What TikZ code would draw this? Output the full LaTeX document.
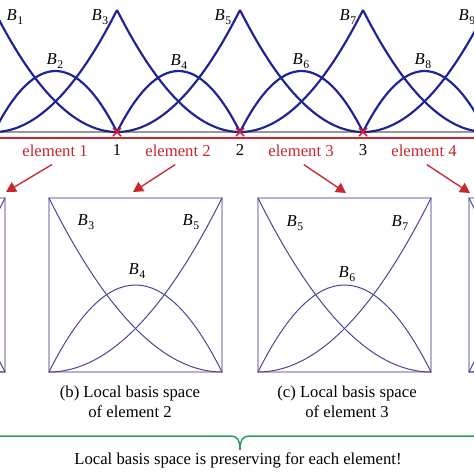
\documentclass[tikz,border=0pt]{standalone}
\usepackage{fontspec}
\setmainfont{Liberation Serif}
\usetikzlibrary{arrows.meta,positioning}

\definecolor{basisblue}{RGB}{30,35,150}
\definecolor{localblue}{RGB}{70,70,155}
\definecolor{framegray}{RGB}{178,180,205}
\definecolor{elemred}{RGB}{200,40,45}
\definecolor{knotred}{RGB}{225,30,40}
\definecolor{bracegreen}{RGB}{40,160,90}
\newcommand{\bas}[1]{\textit{B}\kern0.3pt\raisebox{-0.55ex}{\scriptsize #1}}

\begin{document}
\begin{tikzpicture}[x=0.6pt,y=-0.6pt,>=Stealth,
  basis/.style={basisblue,line width=1.3pt},
  local/.style={localblue,line width=0.6pt},
  frame/.style={framegray,line width=0.9pt},
  elem/.style={elemred},
  elarrow/.style={elemred,line width=0.8pt,-{Triangle[length=6pt,width=6.5pt]},shorten <=2pt},
  knot/.style={knotred,line width=1pt}]
  \clip (0,0) rectangle (474,474);
  \useasboundingbox (0,0) rectangle (474,474);

  % global basis over the knots
  \draw[gray!80,line width=1.2pt] (0,132) -- (474,132);
  \draw[elemred,line width=0.8pt] (0,138) -- (474,138);
  \foreach \i in {0,...,3} {
    \begin{scope}[shift={(\i*123,0)}]
      \draw[basis] (-6,10) .. controls (35,91.3) and (76,132) .. (117,132);
      \draw[basis] (-6,132) .. controls (35,50.7) and (76,50.7) .. (117,132);
      \draw[basis] (-6,132) .. controls (35,132) and (76,91.3) .. (117,10);
    \end{scope}
  }
  \foreach \k in {1,2,3} {
    \draw[knot] (-6+\k*123,132) +(-4,-4) -- +(4,4) +(-4,4) -- +(4,-4);
    \node (k\k) at (-6+\k*123,150) {\k};
  }
  \node (b1) at (15,17) {\bas{1}};
  \node (b3) at (100,17) {\bas{3}};
  \node (b5) at (223,17) {\bas{5}};
  \node (b7) at (348,17) {\bas{7}};
  \node (b9) at (467,17) {\bas{9}};
  \node (b2) at (55,61) {\bas{2}};
  \node (b4) at (179,62) {\bas{4}};
  \node (b6) at (301,61) {\bas{6}};
  \node (b8) at (423,61) {\bas{8}};

  \node[elem] (el1) at (55,151) {element 1};
  \node[elem] (el2) at (178,151) {element 2};
  \node[elem] (el3) at (301,151) {element 3};
  \node[elem] (el4) at (424,151) {element 4};

  % local spaces
  \foreach \bx in {-168,49,258,469} {
    \begin{scope}[shift={(\bx,198)}]
      \draw[frame] (0,0) rectangle (173,174);
      \draw[local] (0,0) .. controls (57.7,116) and (115.3,174) .. (173,174);
      \draw[local] (0,174) .. controls (57.7,58) and (115.3,58) .. (173,174);
      \draw[local] (0,174) .. controls (57.7,174) and (115.3,116) .. (173,0);
    \end{scope}
  }
  \node (lb3) at (86,222) {\bas{3}};
  \node (lb4) at (137,271) {\bas{4}};
  \node (lb5) at (191,222) {\bas{5}};
  \node (lc5) at (295,223) {\bas{5}};
  \node (lc6) at (347,274) {\bas{6}};
  \node (lc7) at (400,223) {\bas{7}};

  \coordinate (tip1) at (6,192);
  \coordinate (tip2) at (133,192);
  \coordinate (tip3) at (346,193);
  \coordinate (tip4) at (470,193);
  \foreach \e in {1,...,4}
    \draw[elarrow] (el\e.south) -- (tip\e);

  \node[align=center] (capb) at (130,402) {(b) Local basis space\\of element 2};
  \node[align=center] (capc) at (347,402) {(c) Local basis space\\of element 3};

  \draw[bracegreen,line width=0.9pt] (0,436) -- (231,436)
    .. controls (237,436) and (240,440) .. (240,450)
    .. controls (240,440) and (243,436) .. (249,436) -- (474,436);
  \node (summary) at (238,460) {Local basis space is preserving for each element!};
\end{tikzpicture}
\end{document}
